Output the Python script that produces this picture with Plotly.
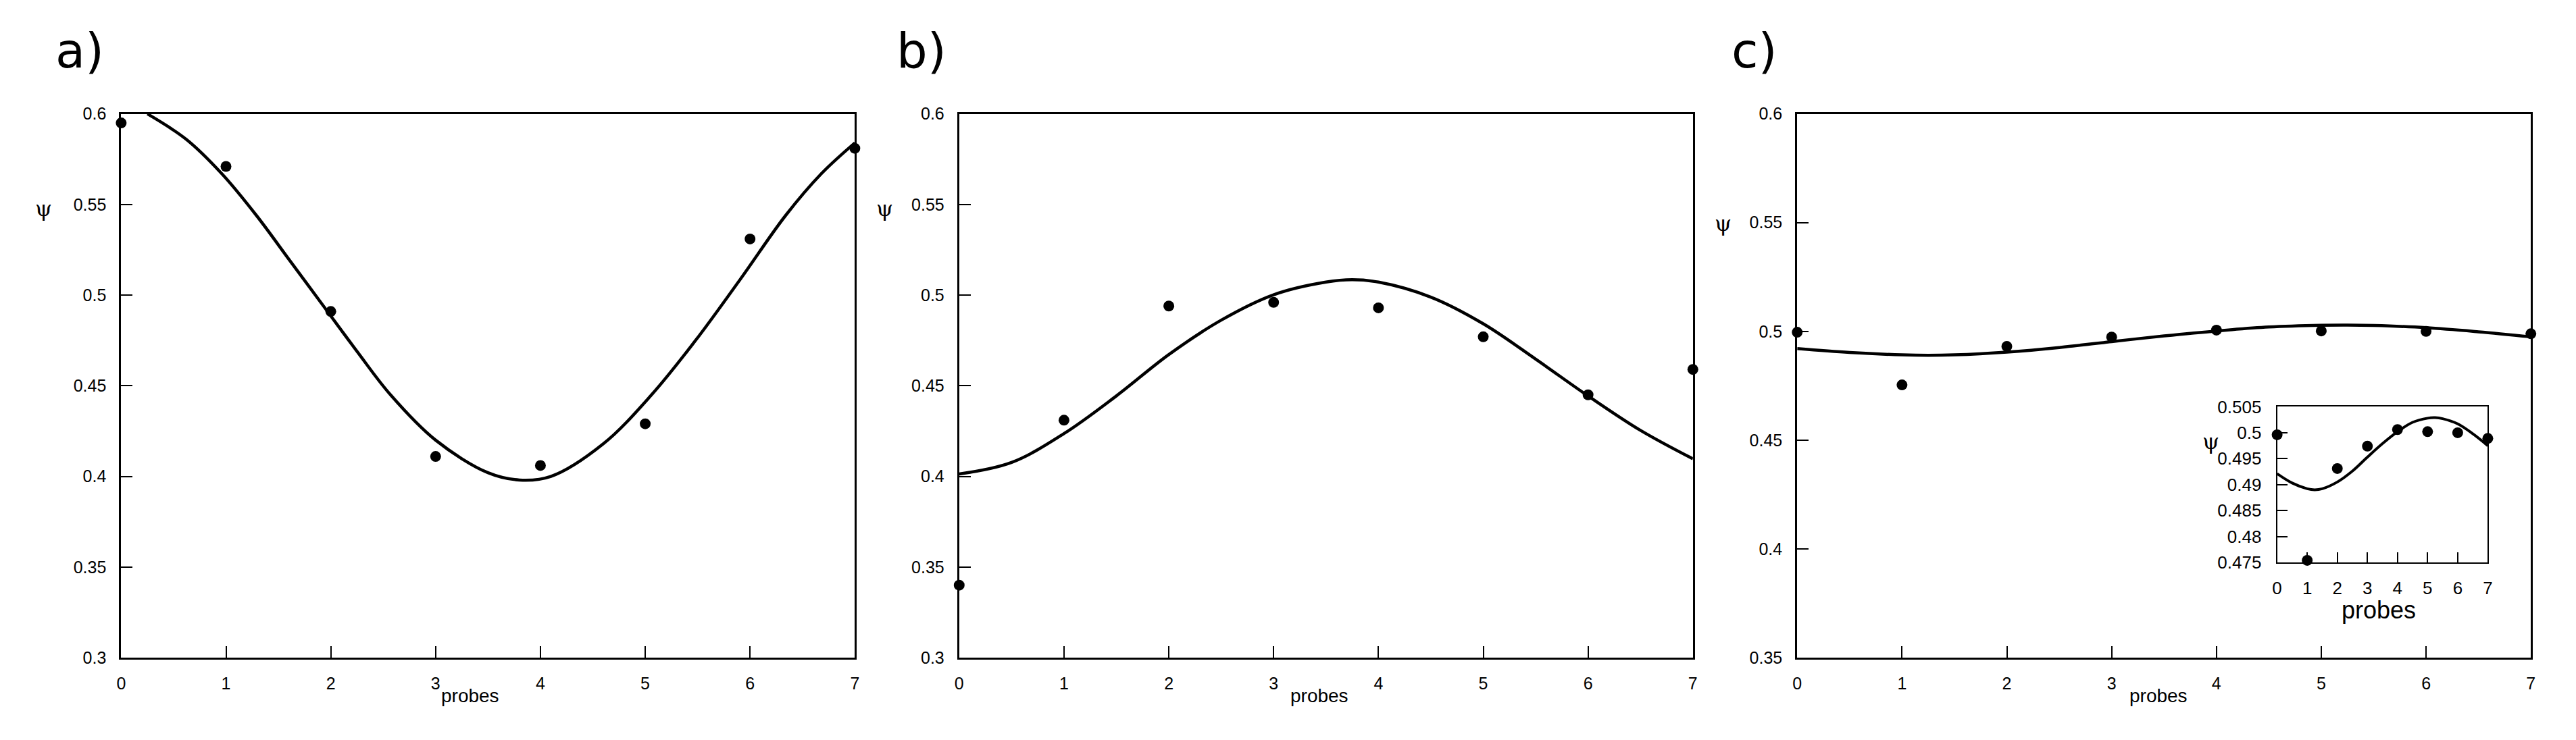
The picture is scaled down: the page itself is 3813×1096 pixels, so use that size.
import plotly.graph_objects as go

# measured points, one per probe
probes = [0, 1, 2, 3, 4, 5, 6, 7]
psi_a = [0.595, 0.571, 0.491, 0.411, 0.406, 0.429, 0.531, 0.581]
psi_b = [0.340, 0.431, 0.494, 0.496, 0.493, 0.477, 0.445, 0.459]
psi_c = [0.4996, 0.4754, 0.4931, 0.4974, 0.5006, 0.5002, 0.5000, 0.4989]

# fitted curves
fit_a_x = [0.25, 0.62, 0.96, 1.29, 1.61, 1.93, 2.25, 2.57, 3.0, 3.5, 3.8, 4.1, 4.6, 5.06, 5.48, 5.91, 6.34, 6.68, 7.0]
fit_a_y = [0.600, 0.586, 0.567, 0.544, 0.519, 0.494, 0.469, 0.445, 0.420, 0.402, 0.398, 0.400, 0.418,
           0.445, 0.475, 0.509, 0.544, 0.567, 0.584]
fit_b_x = [0, 0.5, 1, 1.5, 2, 2.5, 3, 3.5, 3.75, 4, 4.5, 5, 5.5, 6, 6.5, 7]
fit_b_y = [0.4013, 0.4077, 0.4236, 0.4444, 0.4672, 0.4862, 0.5002, 0.5072, 0.5085, 0.5072, 0.4989,
           0.4842, 0.4647, 0.4444, 0.4254, 0.4097]
fit_c_x = [0, 0.5, 1, 1.25, 1.5, 2, 2.5, 3, 3.5, 4, 4.5, 5, 5.25, 5.5, 6, 6.5, 7]
fit_c_y = [0.4921, 0.4903, 0.4892, 0.4890, 0.4892, 0.4905, 0.4926, 0.4953, 0.4979, 0.5002, 0.5020,
           0.5028, 0.5029, 0.5027, 0.5017, 0.4998, 0.4975]

x_ticks = [0, 1, 2, 3, 4, 5, 6, 7]
x_labels = ['0', '1', '2', '3', '4', '5', '6', '7']
y_ticks_ab = [0.3, 0.35, 0.4, 0.45, 0.5, 0.55, 0.6]
y_labels_ab = ['0.3', '0.35', '0.4', '0.45', '0.5', '0.55', '0.6']
y_ticks_c = [0.35, 0.4, 0.45, 0.5, 0.55, 0.6]
y_labels_c = ['0.35', '0.4', '0.45', '0.5', '0.55', '0.6']
y_ticks_inset = [0.475, 0.48, 0.485, 0.49, 0.495, 0.5, 0.505]
y_labels_inset = ['0.475', '0.48', '0.485', '0.49', '0.495', '0.5', '0.505']

W, H = 3813, 1096


def axis(domain, rng, vals, text, anchor, size=25, ticklen=17, lw=3, standoff=14):
    return dict(domain=domain, range=rng, tickvals=vals, ticktext=text, anchor=anchor, ticks='inside',
                ticklen=ticklen, tickwidth=2, tickcolor='black', showline=True, linewidth=lw, linecolor='black',
                mirror=True, showgrid=False, zeroline=False, ticklabelstandoff=standoff,
                tickfont=dict(family='Liberation Sans', size=size, color='black'))


def add_panel(fig, n, xs, ys, fx, fy, width=4.5):
    suffix = '' if n == 1 else str(n)
    fig.add_trace(go.Scatter(x=fx, y=fy, mode='lines', line=dict(color='black', width=width, shape='spline'),
                             xaxis='x' + suffix, yaxis='y' + suffix, hoverinfo='skip'))
    fig.add_trace(go.Scatter(x=xs, y=ys, mode='markers', marker=dict(color='black', size=16),
                             cliponaxis=False, xaxis='x' + suffix, yaxis='y' + suffix))


fig = go.Figure()
add_panel(fig, 1, probes, psi_a, fit_a_x, fit_a_y)
add_panel(fig, 2, probes, psi_b, fit_b_x, fit_b_y)
add_panel(fig, 3, probes, psi_c, fit_c_x, fit_c_y)
add_panel(fig, 4, probes, psi_c, fit_c_x, fit_c_y, width=4)

yd = [1 - 986 / H, 1 - 158 / H]
fig.update_layout(
    width=W, height=H, margin=dict(l=0, r=0, t=0, b=0), showlegend=False,
    paper_bgcolor='white', plot_bgcolor='white',
    xaxis=axis([173 / W, 1263 / W], [0, 7], x_ticks, x_labels, 'y'),
    yaxis=axis(yd, [0.3, 0.6], y_ticks_ab, y_labels_ab, 'x'),
    xaxis2=axis([1418 / W, 2508 / W], [0, 7], x_ticks, x_labels, 'y2'),
    yaxis2=axis(yd, [0.3, 0.6], y_ticks_ab, y_labels_ab, 'x2'),
    xaxis3=axis([2663 / W, 3753 / W], [0, 7], x_ticks, x_labels, 'y3'),
    yaxis3=axis(yd, [0.35, 0.6], y_ticks_c, y_labels_c, 'x3'),
    xaxis4=axis([3376 / W, 3689 / W], [0, 7], x_ticks, x_labels, 'y4', size=26, ticklen=15, lw=2, standoff=14),
    yaxis4=axis([1 - 841 / H, 1 - 604 / H], [0.475, 0.505], y_ticks_inset, y_labels_inset, 'x4',
                size=26, ticklen=15, lw=2, standoff=16),
)

notes = []
for label, px in [('a)', 73), ('b)', 1323), ('c)', 2563)]:
    notes.append(dict(text=label, x=px / W, y=1 - 62 / H, xref='paper', yref='paper', xanchor='left',
                      yanchor='middle', showarrow=False, font=dict(family='DejaVu Sans', size=72, color='black')))
for px, py in [(58, 302), (1307, 302), (2553, 325), (3278, 657)]:
    notes.append(dict(text='ψ', x=px / W, y=1 - py / H, xref='paper', yref='paper', xanchor='center',
                      yanchor='middle', showarrow=False, font=dict(family='DejaVu Serif', size=32, color='black')))
for ref, px in [('x', 3.33), ('x2', 3.44), ('x3', 3.45)]:
    notes.append(dict(text='probes', x=px, y=1 - 1044 / H, xref=ref, yref='paper', xanchor='center',
                      yanchor='middle', showarrow=False, font=dict(family='Liberation Sans', size=28, color='black')))
notes.append(dict(text='probes', x=3.38, y=1 - 913 / H, xref='x4', yref='paper', xanchor='center',
                  yanchor='middle', showarrow=False, font=dict(family='Liberation Sans', size=36, color='black')))
fig.update_layout(annotations=notes)

fig.write_html("out.html", config={'displayModeBar': False},
               post_script="document.body.style.margin = '0';")
